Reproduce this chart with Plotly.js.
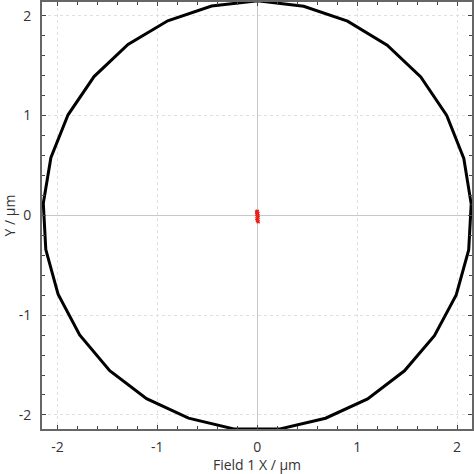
<!DOCTYPE html>
<html>
<head>
<meta charset="utf-8">
<script src="https://cdn.plot.ly/plotly-3.0.1.min.js"></script>
<style>html,body{margin:0;padding:0;background:#fff;}#chart{width:474px;height:474px;}</style>
</head>
<body>
<div id="chart"></div>
<script>
// Reference circle (vertices), in µm
const circleX = [2.142, 2.068, 1.897, 1.637, 1.301, 0.904, 0.465, 0.004, -0.457, -0.896, -1.294, -1.634, -1.894, -2.066, -2.142, -2.117, -1.994, -1.778, -1.477, -1.108, -0.688, -0.235, 0.228, 0.684, 1.105, 1.474, 1.774, 1.992, 2.117, 2.142];
const circleY = [0.112, 0.570, 1.001, 1.386, 1.705, 1.945, 2.094, 2.150, 2.096, 1.949, 1.711, 1.390, 1.007, 0.577, 0.120, -0.343, -0.790, -1.199, -1.556, -1.837, -2.032, -2.140, -2.140, -2.033, -1.839, -1.558, -1.206, -0.797, -0.347, 0.112];
// Ray spots (red), in µm
const spotX = [0.000, 0.006, -0.004, 0.004, 0.008, -0.003, 0.002, 0.009, -0.006];
const spotY = [0.040, 0.020, 0.010, -0.005, -0.020, -0.035, -0.050, -0.065, 0.030];
// Tick labels
const tickVals = [-2, -1, 0, 1, 2];
const tickText = ["-2", "-1", "0", "1", "2"];

const axisCommon = {
  tickvals: tickVals, ticktext: tickText,
  ticks: "inside", ticklen: 4, tickwidth: 1, tickcolor: "#444",
  minor: {dtick: 0.2, ticks: "inside", ticklen: 3, tickcolor: "#444", showgrid: false},
  showline: true, linecolor: "#666", linewidth: 2, mirror: "ticks",
  showgrid: true, gridcolor: "#e0e0e0", griddash: "dot", gridwidth: 1,
  zeroline: true, zerolinecolor: "#c8c8c8", zerolinewidth: 1,
  tickfont: {size: 14, color: "#333"},
  ticklabelstandoff: 4
};

const data = [
  {x: circleX, y: circleY, type: "scatter", mode: "lines",
   line: {color: "#000", width: 3}, hoverinfo: "skip"},
  {x: spotX, y: spotY, type: "scatter", mode: "markers",
   marker: {symbol: "x-thin", size: 3, line: {color: "#e8201a", width: 1.5}, color: "#e8201a"}}
];

const layout = {
  width: 474, height: 474,
  margin: {l: 42, r: 2, t: 2, b: 45},
  showlegend: false,
  paper_bgcolor: "#fff", plot_bgcolor: "#fff",
  font: {family: "Open Sans, Noto Sans, sans-serif", size: 14, color: "#333"},
  xaxis: Object.assign({}, axisCommon, {
    range: [-2.155, 2.150],
    title: {text: "Field 1 X / µm", font: {size: 14, color: "#333"}, standoff: 6}
  }),
  yaxis: Object.assign({}, axisCommon, {
    range: [-2.141, 2.137],
    ticklabelstandoff: 6,
    title: {text: "Y / µm", font: {size: 14, color: "#333"}, standoff: 8}
  })
};

Plotly.newPlot("chart", data, layout, {staticPlot: true, displayModeBar: false});
</script>
</body>
</html>
